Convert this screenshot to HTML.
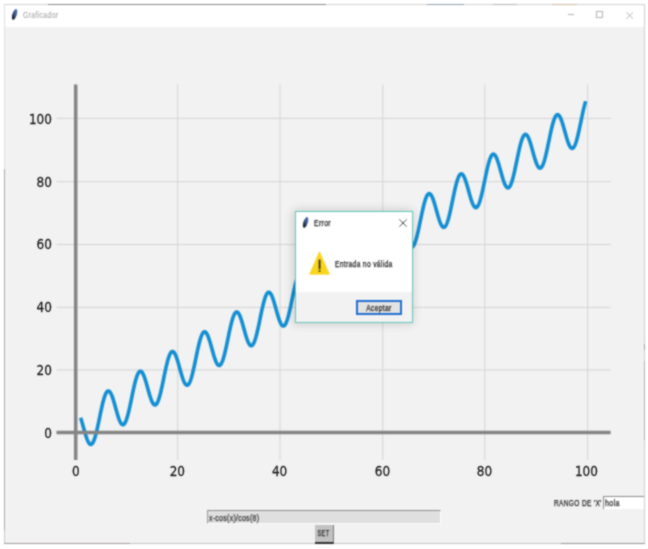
<!DOCTYPE html>
<html><head><meta charset="utf-8"><style>
*{margin:0;padding:0;box-sizing:border-box}
html,body{width:648px;height:549px;overflow:hidden;background:#fff;position:relative;font-family:"Liberation Sans",sans-serif}
.abs{position:absolute;white-space:nowrap}
.win{position:absolute;left:4px;top:4px;width:641px;height:540px;background:#f2f2f2;overflow:hidden}
.title{position:absolute;left:0;top:0;width:100%;height:22.6px;background:#fff}
.ttext{position:absolute;left:19px;top:4.7px;font-size:9.6px;color:#999;letter-spacing:0.45px;transform:scaleX(0.72);transform-origin:0 0;white-space:nowrap}
.chart{position:absolute;left:0;top:0}
.sx{display:inline-block;transform-origin:0 0}
.dk{-webkit-text-stroke:0.25px currentColor}
.ls{letter-spacing:0.45px}
#txt{position:absolute;left:0;top:0;width:648px;height:549px;filter:url(#pageblur)}
#all{position:absolute;left:0;top:0;width:648px;height:549px;background:#fff;filter:url(#pageblur)}
</style></head><body><svg width="0" height="0" style="position:absolute"><filter id="pageblur" x="0" y="0" width="100%" height="100%" color-interpolation-filters="sRGB"><feConvolveMatrix order="3" kernelMatrix="1 2 1 2 6 2 1 2 1" divisor="18" edgeMode="duplicate" preserveAlpha="false"/></filter></svg><svg width="0" height="0" style="position:absolute"><filter id="labblur" x="0" y="0" width="100%" height="100%" color-interpolation-filters="sRGB"><feConvolveMatrix order="3" kernelMatrix="1 2 1 2 10 2 1 2 1" divisor="22" edgeMode="duplicate" preserveAlpha="false"/></filter></svg><div id="all">
<div class="win">
  <div class="title">
    <div class="abs" style="left:563.5px;top:10.3px;width:6.6px;height:1px;background:#b0b0b0"></div>
    <div class="abs" style="left:592.4px;top:7.3px;width:6.8px;height:6.8px;border:0.8px solid #b4b4b4"></div>
    <svg class="abs" style="left:621.8px;top:7.6px" width="7.4" height="7" viewBox="0 0 7.4 7"><path d="M0.2,0.2 L7.2,6.8 M7.2,0.2 L0.2,6.8" stroke="#acacac" stroke-width="0.85"/></svg>
  </div>
</div>
<svg class="abs" style="left:10.0px;top:7.7px" width="9" height="13" viewBox="0 0 9 13"><defs><linearGradient id="fg10.0" x1="0.7" y1="0" x2="0.3" y2="1"><stop offset="0" stop-color="#5470a8"/><stop offset="0.45" stop-color="#3f5894"/><stop offset="0.75" stop-color="#232a40"/><stop offset="1" stop-color="#101010"/></linearGradient></defs><ellipse cx="4.6" cy="6.4" rx="2.2" ry="5.6" transform="rotate(18 4.6 6.4)" fill="url(#fg10.0)"/></svg>
<!-- window borders -->
<div class="abs" style="left:4px;top:4px;width:641px;height:1px;background:#d2d2d2"></div>
<div class="abs" style="left:48px;top:4px;width:278px;height:1px;background:#8a8a8a"></div><div class="abs" style="left:427px;top:4px;width:37px;height:1px;background:#8d9fb0"></div><div class="abs" style="left:493px;top:4px;width:24px;height:1px;background:#b4b4b4"></div><div class="abs" style="left:552px;top:4px;width:25px;height:1px;background:#cdb9a0"></div>
<div class="abs" style="left:4px;top:4px;width:1px;height:165px;background:#e0e0e0"></div>
<div class="abs" style="left:4px;top:169px;width:1px;height:361px;background:#a8a8a8"></div>
<div class="abs" style="left:4px;top:530px;width:1px;height:14px;background:#c8c8c8"></div>
<div class="abs" style="left:644px;top:4px;width:1px;height:540px;background:#cfcfcf"></div><div class="abs" style="left:644px;top:344px;width:1px;height:6px;background:#a0a0a0"></div><div class="abs" style="left:644px;top:361px;width:1px;height:79px;background:#b4b4b4"></div>
<div class="abs" style="left:4px;top:543px;width:126px;height:1px;background:#a39a9a"></div><div class="abs" style="left:130px;top:543px;width:431px;height:1px;background:#c6c6c6"></div><div class="abs" style="left:561px;top:543px;width:84px;height:1px;background:#949494"></div>
<svg class="chart" width="648" height="549" viewBox="0 0 648 549">
<defs><filter id="soft" x="-5%" y="-5%" width="110%" height="110%"><feGaussianBlur stdDeviation="0.3"/></filter></defs><g stroke="#d4d4d4" stroke-width="1"><line x1="75.40" y1="84.5" x2="75.40" y2="460.1"/><line x1="56.5" y1="432.30" x2="610.6" y2="432.30"/><line x1="177.70" y1="84.5" x2="177.70" y2="460.1"/><line x1="56.5" y1="369.90" x2="610.6" y2="369.90"/><line x1="280.00" y1="84.5" x2="280.00" y2="460.1"/><line x1="56.5" y1="307.40" x2="610.6" y2="307.40"/><line x1="382.80" y1="84.5" x2="382.80" y2="460.1"/><line x1="56.5" y1="244.50" x2="610.6" y2="244.50"/><line x1="484.80" y1="84.5" x2="484.80" y2="460.1"/><line x1="56.5" y1="181.70" x2="610.6" y2="181.70"/><line x1="587.60" y1="84.5" x2="587.60" y2="460.1"/><line x1="56.5" y1="118.40" x2="610.6" y2="118.40"/></g>
<path d="M80.61,417.70 L81.03,418.97 L81.45,420.32 L81.87,421.72 L82.29,423.17 L82.71,424.65 L83.13,426.16 L83.55,427.68 L83.97,429.20 L84.40,430.70 L84.82,432.18 L85.24,433.62 L85.66,435.02 L86.08,436.36 L86.50,437.62 L86.92,438.80 L87.34,439.90 L87.76,440.89 L88.18,441.78 L88.60,442.55 L89.03,443.20 L89.45,443.71 L89.87,444.10 L90.29,444.34 L90.71,444.45 L91.13,444.40 L91.55,444.22 L91.97,443.88 L92.39,443.40 L92.81,442.78 L93.23,442.01 L93.65,441.10 L94.08,440.06 L94.50,438.90 L94.92,437.60 L95.34,436.20 L95.76,434.68 L96.18,433.07 L96.60,431.36 L97.02,429.58 L97.44,427.72 L97.86,425.81 L98.28,423.85 L98.71,421.85 L99.13,419.82 L99.55,417.79 L99.97,415.75 L100.39,413.73 L100.81,411.73 L101.23,409.76 L101.65,407.84 L102.07,405.98 L102.49,404.19 L102.91,402.48 L103.34,400.85 L103.76,399.33 L104.18,397.91 L104.60,396.61 L105.02,395.43 L105.44,394.38 L105.86,393.46 L106.28,392.68 L106.70,392.04 L107.12,391.55 L107.54,391.20 L107.97,391.00 L108.39,390.95 L108.81,391.04 L109.23,391.27 L109.65,391.64 L110.07,392.15 L110.49,392.79 L110.91,393.55 L111.33,394.42 L111.75,395.41 L112.17,396.49 L112.60,397.67 L113.02,398.93 L113.44,400.26 L113.86,401.65 L114.28,403.09 L114.70,404.56 L115.12,406.07 L115.54,407.58 L115.96,409.10 L116.38,410.61 L116.80,412.10 L117.23,413.55 L117.65,414.96 L118.07,416.31 L118.49,417.59 L118.91,418.80 L119.33,419.91 L119.75,420.93 L120.17,421.84 L120.59,422.64 L121.01,423.32 L121.43,423.87 L121.86,424.28 L122.28,424.56 L122.70,424.70 L123.12,424.69 L123.54,424.54 L123.96,424.24 L124.38,423.79 L124.80,423.20 L125.22,422.47 L125.64,421.60 L126.06,420.59 L126.49,419.45 L126.91,418.18 L127.33,416.80 L127.75,415.31 L128.17,413.72 L128.59,412.04 L129.01,410.27 L129.43,408.43 L129.85,406.53 L130.27,404.58 L130.69,402.59 L131.12,400.57 L131.54,398.54 L131.96,396.50 L132.38,394.47 L132.80,392.46 L133.22,390.49 L133.64,388.56 L134.06,386.68 L134.48,384.87 L134.90,383.14 L135.32,381.49 L135.75,379.95 L136.17,378.50 L136.59,377.17 L137.01,375.96 L137.43,374.88 L137.85,373.93 L138.27,373.12 L138.69,372.45 L139.11,371.92 L139.53,371.54 L139.95,371.30 L140.38,371.21 L140.80,371.27 L141.22,371.47 L141.64,371.81 L142.06,372.28 L142.48,372.89 L142.90,373.62 L143.32,374.47 L143.74,375.43 L144.16,376.49 L144.58,377.65 L145.00,378.89 L145.43,380.20 L145.85,381.58 L146.27,383.01 L146.69,384.48 L147.11,385.97 L147.53,387.49 L147.95,389.01 L148.37,390.52 L148.79,392.01 L149.21,393.48 L149.63,394.89 L150.06,396.26 L150.48,397.56 L150.90,398.78 L151.32,399.92 L151.74,400.96 L152.16,401.90 L152.58,402.73 L153.00,403.43 L153.42,404.01 L153.84,404.46 L154.26,404.77 L154.69,404.94 L155.11,404.97 L155.53,404.85 L155.95,404.59 L156.37,404.18 L156.79,403.62 L157.21,402.92 L157.63,402.08 L158.05,401.10 L158.47,399.99 L158.89,398.76 L159.32,397.41 L159.74,395.94 L160.16,394.37 L160.58,392.71 L161.00,390.96 L161.42,389.14 L161.84,387.25 L162.26,385.31 L162.68,383.33 L163.10,381.31 L163.52,379.28 L163.95,377.24 L164.37,375.21 L164.79,373.20 L165.21,371.22 L165.63,369.27 L166.05,367.38 L166.47,365.56 L166.89,363.81 L167.31,362.14 L167.73,360.57 L168.15,359.10 L168.58,357.74 L169.00,356.50 L169.42,355.39 L169.84,354.41 L170.26,353.56 L170.68,352.86 L171.10,352.30 L171.52,351.88 L171.94,351.61 L172.36,351.49 L172.78,351.51 L173.21,351.67 L173.63,351.98 L174.05,352.42 L174.47,353.00 L174.89,353.70 L175.31,354.52 L175.73,355.46 L176.15,356.49 L176.57,357.63 L176.99,358.85 L177.41,360.15 L177.84,361.51 L178.26,362.93 L178.68,364.39 L179.10,365.88 L179.52,367.39 L179.94,368.91 L180.36,370.43 L180.78,371.93 L181.20,373.40 L181.62,374.83 L182.04,376.21 L182.47,377.52 L182.89,378.77 L183.31,379.92 L183.73,380.99 L184.15,381.95 L184.57,382.81 L184.99,383.54 L185.41,384.15 L185.83,384.63 L186.25,384.98 L186.67,385.18 L187.10,385.24 L187.52,385.16 L187.94,384.93 L188.36,384.55 L188.78,384.03 L189.20,383.36 L189.62,382.55 L190.04,381.61 L190.46,380.53 L190.88,379.33 L191.30,378.00 L191.73,376.56 L192.15,375.02 L192.57,373.38 L192.99,371.65 L193.41,369.84 L193.83,367.97 L194.25,366.04 L194.67,364.06 L195.09,362.06 L195.51,360.03 L195.93,357.99 L196.36,355.96 L196.78,353.94 L197.20,351.95 L197.62,349.99 L198.04,348.09 L198.46,346.25 L198.88,344.48 L199.30,342.79 L199.72,341.20 L200.14,339.70 L200.56,338.32 L200.98,337.05 L201.41,335.91 L201.83,334.89 L202.25,334.02 L202.67,333.28 L203.09,332.68 L203.51,332.23 L203.93,331.92 L204.35,331.77 L204.77,331.75 L205.19,331.89 L205.61,332.16 L206.04,332.57 L206.46,333.11 L206.88,333.79 L207.30,334.58 L207.72,335.49 L208.14,336.50 L208.56,337.62 L208.98,338.82 L209.40,340.10 L209.82,341.45 L210.24,342.85 L210.67,344.30 L211.09,345.79 L211.51,347.30 L211.93,348.82 L212.35,350.33 L212.77,351.84 L213.19,353.32 L213.61,354.76 L214.03,356.15 L214.45,357.48 L214.87,358.74 L215.30,359.92 L215.72,361.01 L216.14,362.00 L216.56,362.88 L216.98,363.64 L217.40,364.28 L217.82,364.80 L218.24,365.17 L218.66,365.41 L219.08,365.50 L219.50,365.46 L219.93,365.26 L220.35,364.92 L220.77,364.43 L221.19,363.80 L221.61,363.02 L222.03,362.11 L222.45,361.06 L222.87,359.89 L223.29,358.59 L223.71,357.18 L224.13,355.66 L224.56,354.04 L224.98,352.33 L225.40,350.54 L225.82,348.68 L226.24,346.76 L226.66,344.80 L227.08,342.80 L227.50,340.78 L227.92,338.74 L228.34,336.70 L228.76,334.68 L229.19,332.68 L229.61,330.72 L230.03,328.80 L230.45,326.94 L230.87,325.15 L231.29,323.45 L231.71,321.83 L232.13,320.31 L232.55,318.90 L232.97,317.60 L233.39,316.43 L233.82,315.39 L234.24,314.48 L234.66,313.70 L235.08,313.07 L235.50,312.59 L235.92,312.25 L236.34,312.06 L236.76,312.01 L237.18,312.11 L237.60,312.35 L238.02,312.72 L238.45,313.24 L238.87,313.88 L239.29,314.65 L239.71,315.53 L240.13,316.52 L240.55,317.61 L240.97,318.79 L241.39,320.05 L241.81,321.39 L242.23,322.78 L242.65,324.22 L243.08,325.70 L243.50,327.20 L243.92,328.72 L244.34,330.24 L244.76,331.75 L245.18,333.23 L245.60,334.68 L246.02,336.09 L246.44,337.44 L246.86,338.72 L247.28,339.92 L247.71,341.03 L248.13,342.04 L248.55,342.95 L248.97,343.74 L249.39,344.41 L249.81,344.95 L250.23,345.36 L250.65,345.63 L251.07,345.76 L251.49,345.74 L251.91,345.58 L252.33,345.28 L252.76,344.82 L253.18,344.22 L253.60,343.48 L254.02,342.60 L254.44,341.59 L254.86,340.44 L255.28,339.17 L255.70,337.79 L256.12,336.29 L256.54,334.69 L256.96,333.01 L257.39,331.23 L257.81,329.39 L258.23,327.49 L258.65,325.53 L259.07,323.54 L259.49,321.52 L259.91,319.49 L260.33,317.45 L260.75,315.42 L261.17,313.41 L261.59,311.44 L262.02,309.51 L262.44,307.64 L262.86,305.84 L263.28,304.11 L263.70,302.47 L264.12,300.93 L264.54,299.49 L264.96,298.16 L265.38,296.96 L265.80,295.89 L266.22,294.94 L266.65,294.14 L267.07,293.47 L267.49,292.95 L267.91,292.58 L268.33,292.35 L268.75,292.27 L269.17,292.33 L269.59,292.54 L270.01,292.89 L270.43,293.37 L270.85,293.98 L271.28,294.72 L271.70,295.57 L272.12,296.54 L272.54,297.61 L272.96,298.77 L273.38,300.01 L273.80,301.33 L274.22,302.71 L274.64,304.14 L275.06,305.61 L275.48,307.11 L275.91,308.63 L276.33,310.15 L276.75,311.66 L277.17,313.15 L277.59,314.61 L278.01,316.03 L278.43,317.39 L278.85,318.68 L279.27,319.90 L279.69,321.04 L280.11,322.07 L280.54,323.01 L280.96,323.83 L281.38,324.53 L281.80,325.10 L282.22,325.54 L282.64,325.84 L283.06,326.01 L283.48,326.03 L283.90,325.90 L284.32,325.63 L284.74,325.21 L285.17,324.64 L285.59,323.94 L286.01,323.09 L286.43,322.10 L286.85,320.99 L287.27,319.75 L287.69,318.39 L288.11,316.92 L288.53,315.35 L288.95,313.68 L289.37,311.93 L289.80,310.10 L290.22,308.21 L290.64,306.26 L291.06,304.28 L291.48,302.27 L291.90,300.23 L292.32,298.20 L292.74,296.16 L293.16,294.15 L293.58,292.17 L294.00,290.23 L294.43,288.34 L294.85,286.52 L295.27,284.77 L295.69,283.11 L296.11,281.55 L296.53,280.08 L296.95,278.73 L297.37,277.50 L297.79,276.39 L298.21,275.42 L298.63,274.58 L299.06,273.88 L299.48,273.33 L299.90,272.92 L300.32,272.66 L300.74,272.54 L301.16,272.57 L301.58,272.74 L302.00,273.06 L302.42,273.51 L302.84,274.09 L303.26,274.80 L303.69,275.63 L304.11,276.57 L304.53,277.61 L304.95,278.75 L305.37,279.98 L305.79,281.28 L306.21,282.64 L306.63,284.06 L307.05,285.52 L307.47,287.02 L307.89,288.53 L308.31,290.05 L308.74,291.57 L309.16,293.06 L309.58,294.53 L310.00,295.96 L310.42,297.34 L310.84,298.65 L311.26,299.89 L311.68,301.04 L312.10,302.10 L312.52,303.06 L312.94,303.91 L313.37,304.64 L313.79,305.24 L314.21,305.71 L314.63,306.05 L315.05,306.25 L315.47,306.30 L315.89,306.21 L316.31,305.97 L316.73,305.59 L317.15,305.06 L317.57,304.38 L318.00,303.57 L318.42,302.61 L318.84,301.53 L319.26,300.32 L319.68,298.99 L320.10,297.54 L320.52,295.99 L320.94,294.35 L321.36,292.61 L321.78,290.80 L322.20,288.93 L322.63,286.99 L323.05,285.02 L323.47,283.01 L323.89,280.98 L324.31,278.94 L324.73,276.91 L325.15,274.89 L325.57,272.90 L325.99,270.95 L326.41,269.05 L326.83,267.21 L327.26,265.45 L327.68,263.76 L328.10,262.17 L328.52,260.68 L328.94,259.31 L329.36,258.04 L329.78,256.91 L330.20,255.90 L330.62,255.03 L331.04,254.30 L331.46,253.71 L331.89,253.27 L332.31,252.97 L332.73,252.82 L333.15,252.82 L333.57,252.95 L333.99,253.24 L334.41,253.65 L334.83,254.20 L335.25,254.88 L335.67,255.68 L336.09,256.60 L336.52,257.62 L336.94,258.74 L337.36,259.94 L337.78,261.23 L338.20,262.58 L338.62,263.99 L339.04,265.44 L339.46,266.93 L339.88,268.44 L340.30,269.96 L340.72,271.47 L341.15,272.98 L341.57,274.45 L341.99,275.89 L342.41,277.28 L342.83,278.61 L343.25,279.87 L343.67,281.04 L344.09,282.12 L344.51,283.11 L344.93,283.98 L345.35,284.74 L345.78,285.37 L346.20,285.88 L346.62,286.25 L347.04,286.48 L347.46,286.56 L347.88,286.51 L348.30,286.30 L348.72,285.95 L349.14,285.46 L349.56,284.82 L349.98,284.04 L350.41,283.12 L350.83,282.06 L351.25,280.88 L351.67,279.58 L352.09,278.16 L352.51,276.63 L352.93,275.01 L353.35,273.29 L353.77,271.50 L354.19,269.64 L354.61,267.72 L355.04,265.75 L355.46,263.75 L355.88,261.73 L356.30,259.69 L356.72,257.65 L357.14,255.63 L357.56,253.63 L357.98,251.67 L358.40,249.76 L358.82,247.90 L359.24,246.12 L359.66,244.42 L360.09,242.80 L360.51,241.29 L360.93,239.89 L361.35,238.60 L361.77,237.43 L362.19,236.39 L362.61,235.49 L363.03,234.72 L363.45,234.10 L363.87,233.62 L364.29,233.29 L364.72,233.11 L365.14,233.07 L365.56,233.17 L365.98,233.42 L366.40,233.81 L366.82,234.33 L367.24,234.98 L367.66,235.75 L368.08,236.64 L368.50,237.63 L368.92,238.73 L369.35,239.91 L369.77,241.18 L370.19,242.52 L370.61,243.91 L371.03,245.36 L371.45,246.84 L371.87,248.34 L372.29,249.86 L372.71,251.38 L373.13,252.89 L373.55,254.37 L373.98,255.82 L374.40,257.22 L374.82,258.56 L375.24,259.84 L375.66,261.03 L376.08,262.14 L376.50,263.15 L376.92,264.05 L377.34,264.83 L377.76,265.50 L378.18,266.03 L378.61,266.44 L379.03,266.70 L379.45,266.82 L379.87,266.80 L380.29,266.63 L380.71,266.31 L381.13,265.85 L381.55,265.25 L381.97,264.50 L382.39,263.61 L382.81,262.59 L383.24,261.44 L383.66,260.16 L384.08,258.77 L384.50,257.27 L384.92,255.67 L385.34,253.97 L385.76,252.20 L386.18,250.35 L386.60,248.44 L387.02,246.49 L387.44,244.49 L387.87,242.47 L388.29,240.44 L388.71,238.40 L389.13,236.37 L389.55,234.37 L389.97,232.40 L390.39,230.47 L390.81,228.60 L391.23,226.80 L391.65,225.08 L392.07,223.44 L392.50,221.90 L392.92,220.47 L393.34,219.16 L393.76,217.96 L394.18,216.89 L394.60,215.96 L395.02,215.16 L395.44,214.50 L395.86,213.99 L396.28,213.62 L396.70,213.40 L397.13,213.33 L397.55,213.40 L397.97,213.61 L398.39,213.97 L398.81,214.46 L399.23,215.08 L399.65,215.82 L400.07,216.68 L400.49,217.65 L400.91,218.72 L401.33,219.89 L401.76,221.14 L402.18,222.46 L402.60,223.84 L403.02,225.28 L403.44,226.75 L403.86,228.25 L404.28,229.76 L404.70,231.28 L405.12,232.79 L405.54,234.29 L405.96,235.74 L406.39,237.16 L406.81,238.52 L407.23,239.81 L407.65,241.02 L408.07,242.15 L408.49,243.18 L408.91,244.11 L409.33,244.92 L409.75,245.62 L410.17,246.18 L410.59,246.62 L411.02,246.91 L411.44,247.07 L411.86,247.08 L412.28,246.95 L412.70,246.67 L413.12,246.24 L413.54,245.67 L413.96,244.95 L414.38,244.10 L414.80,243.11 L415.22,241.99 L415.64,240.74 L416.07,239.37 L416.49,237.90 L416.91,236.32 L417.33,234.65 L417.75,232.89 L418.17,231.06 L418.59,229.16 L419.01,227.22 L419.43,225.23 L419.85,223.22 L420.27,221.18 L420.70,219.15 L421.12,217.12 L421.54,215.10 L421.96,213.12 L422.38,211.19 L422.80,209.30 L423.22,207.49 L423.64,205.74 L424.06,204.09 L424.48,202.52 L424.90,201.07 L425.33,199.72 L425.75,198.50 L426.17,197.40 L426.59,196.43 L427.01,195.60 L427.43,194.91 L427.85,194.36 L428.27,193.96 L428.69,193.71 L429.11,193.60 L429.53,193.63 L429.96,193.81 L430.38,194.14 L430.80,194.59 L431.22,195.18 L431.64,195.90 L432.06,196.73 L432.48,197.68 L432.90,198.73 L433.32,199.87 L433.74,201.10 L434.16,202.40 L434.59,203.77 L435.01,205.20 L435.43,206.66 L435.85,208.16 L436.27,209.67 L436.69,211.19 L437.11,212.70 L437.53,214.20 L437.95,215.67 L438.37,217.09 L438.79,218.46 L439.22,219.77 L439.64,221.01 L440.06,222.16 L440.48,223.21 L440.90,224.17 L441.32,225.01 L441.74,225.73 L442.16,226.33 L442.58,226.79 L443.00,227.12 L443.42,227.31 L443.85,227.36 L444.27,227.26 L444.69,227.01 L445.11,226.62 L445.53,226.08 L445.95,225.40 L446.37,224.58 L446.79,223.62 L447.21,222.53 L447.63,221.31 L448.05,219.97 L448.48,218.52 L448.90,216.97 L449.32,215.31 L449.74,213.58 L450.16,211.76 L450.58,209.88 L451.00,207.95 L451.42,205.97 L451.84,203.96 L452.26,201.93 L452.68,199.89 L453.11,197.86 L453.53,195.84 L453.95,193.85 L454.37,191.91 L454.79,190.01 L455.21,188.17 L455.63,186.41 L456.05,184.73 L456.47,183.15 L456.89,181.67 L457.31,180.29 L457.74,179.04 L458.16,177.91 L458.58,176.91 L459.00,176.05 L459.42,175.32 L459.84,174.74 L460.26,174.31 L460.68,174.02 L461.10,173.87 L461.52,173.88 L461.94,174.02 L462.37,174.31 L462.79,174.74 L463.21,175.30 L463.63,175.98 L464.05,176.79 L464.47,177.71 L464.89,178.73 L465.31,179.86 L465.73,181.07 L466.15,182.35 L466.57,183.71 L466.99,185.12 L467.42,186.58 L467.84,188.06 L468.26,189.57 L468.68,191.09 L469.10,192.61 L469.52,194.11 L469.94,195.59 L470.36,197.02 L470.78,198.41 L471.20,199.73 L471.62,200.99 L472.05,202.16 L472.47,203.24 L472.89,204.21 L473.31,205.08 L473.73,205.83 L474.15,206.46 L474.57,206.96 L474.99,207.32 L475.41,207.54 L475.83,207.62 L476.25,207.56 L476.68,207.35 L477.10,206.99 L477.52,206.49 L477.94,205.84 L478.36,205.05 L478.78,204.12 L479.20,203.06 L479.62,201.87 L480.04,200.56 L480.46,199.14 L480.88,197.61 L481.31,195.98 L481.73,194.26 L482.15,192.46 L482.57,190.60 L482.99,188.68 L483.41,186.71 L483.83,184.70 L484.25,182.68 L484.67,180.64 L485.09,178.61 L485.51,176.58 L485.94,174.59 L486.36,172.63 L486.78,170.72 L487.20,168.87 L487.62,167.09 L488.04,165.39 L488.46,163.78 L488.88,162.27 L489.30,160.87 L489.72,159.59 L490.14,158.43 L490.57,157.40 L490.99,156.50 L491.41,155.75 L491.83,155.13 L492.25,154.66 L492.67,154.34 L493.09,154.16 L493.51,154.13 L493.93,154.24 L494.35,154.50 L494.77,154.89 L495.20,155.42 L495.62,156.07 L496.04,156.85 L496.46,157.74 L496.88,158.75 L497.30,159.85 L497.72,161.04 L498.14,162.31 L498.56,163.65 L498.98,165.05 L499.40,166.49 L499.83,167.97 L500.25,169.48 L500.67,171.00 L501.09,172.52 L501.51,174.02 L501.93,175.50 L502.35,176.95 L502.77,178.35 L503.19,179.69 L503.61,180.96 L504.03,182.15 L504.46,183.25 L504.88,184.26 L505.30,185.15 L505.72,185.93 L506.14,186.59 L506.56,187.12 L506.98,187.51 L507.40,187.77 L507.82,187.88 L508.24,187.85 L508.66,187.67 L509.09,187.35 L509.51,186.88 L509.93,186.27 L510.35,185.51 L510.77,184.62 L511.19,183.59 L511.61,182.43 L512.03,181.15 L512.45,179.75 L512.87,178.24 L513.29,176.64 L513.72,174.94 L514.14,173.16 L514.56,171.31 L514.98,169.40 L515.40,167.44 L515.82,165.44 L516.24,163.42 L516.66,161.39 L517.08,159.35 L517.50,157.32 L517.92,155.32 L518.34,153.35 L518.77,151.43 L519.19,149.56 L519.61,147.77 L520.03,146.05 L520.45,144.42 L520.87,142.88 L521.29,141.46 L521.71,140.15 L522.13,138.96 L522.55,137.90 L522.97,136.97 L523.40,136.18 L523.82,135.53 L524.24,135.02 L524.66,134.67 L525.08,134.45 L525.50,134.39 L525.92,134.47 L526.34,134.69 L526.76,135.05 L527.18,135.54 L527.60,136.17 L528.03,136.92 L528.45,137.79 L528.87,138.76 L529.29,139.84 L529.71,141.01 L530.13,142.26 L530.55,143.59 L530.97,144.97 L531.39,146.41 L531.81,147.88 L532.23,149.39 L532.66,150.90 L533.08,152.42 L533.50,153.93 L533.92,155.42 L534.34,156.88 L534.76,158.29 L535.18,159.64 L535.60,160.93 L536.02,162.14 L536.44,163.27 L536.86,164.29 L537.29,165.21 L537.71,166.02 L538.13,166.71 L538.55,167.27 L538.97,167.69 L539.39,167.98 L539.81,168.13 L540.23,168.14 L540.65,167.99 L541.07,167.71 L541.49,167.27 L541.92,166.69 L542.34,165.97 L542.76,165.11 L543.18,164.11 L543.60,162.98 L544.02,161.73 L544.44,160.36 L544.86,158.87 L545.28,157.29 L545.70,155.61 L546.12,153.85 L546.55,152.02 L546.97,150.12 L547.39,148.17 L547.81,146.18 L548.23,144.17 L548.65,142.13 L549.07,140.10 L549.49,138.07 L549.91,136.06 L550.33,134.08 L550.75,132.14 L551.18,130.26 L551.60,128.45 L552.02,126.71 L552.44,125.06 L552.86,123.50 L553.28,122.05 L553.70,120.71 L554.12,119.49 L554.54,118.40 L554.96,117.44 L555.38,116.62 L555.81,115.93 L556.23,115.39 L556.65,115.00 L557.07,114.75 L557.49,114.65 L557.91,114.70 L558.33,114.89 L558.75,115.21 L559.17,115.68 L559.59,116.27 L560.01,117.00 L560.44,117.84 L560.86,118.79 L561.28,119.84 L561.70,120.99 L562.12,122.22 L562.54,123.53 L562.96,124.91 L563.38,126.33 L563.80,127.80 L564.22,129.29 L564.64,130.81 L565.07,132.33 L565.49,133.84 L565.91,135.34 L566.33,136.80 L566.75,138.22 L567.17,139.59 L567.59,140.90 L568.01,142.13 L568.43,143.27 L568.85,144.32 L569.27,145.27 L569.70,146.11 L570.12,146.82 L570.54,147.41 L570.96,147.87 L571.38,148.19 L571.80,148.37 L572.22,148.41 L572.64,148.31 L573.06,148.05 L573.48,147.65 L573.90,147.11 L574.32,146.42 L574.75,145.59 L575.17,144.62 L575.59,143.52 L576.01,142.30 L576.43,140.96 L576.85,139.50 L577.27,137.94 L577.69,136.28 L578.11,134.54 L578.53,132.72 L578.95,130.84 L579.38,128.90 L579.80,126.92 L580.22,124.91 L580.64,122.88 L581.06,120.84 L581.48,118.81 L581.90,116.80 L582.32,114.81 L582.74,112.86 L583.16,110.97 L583.58,109.14 L584.01,107.38 L584.43,105.71 L584.85,104.13 L585.27,102.65 L585.69,101.28" fill="none" stroke="#128ed2" stroke-width="3.6" stroke-linejoin="round" stroke-linecap="butt"/>
<line x1="75.70" y1="84.5" x2="75.70" y2="460.1" stroke="#848484" stroke-width="3.5"/>
<line x1="56.5" y1="432.6" x2="610.6" y2="432.6" stroke="#848484" stroke-width="3.5"/>
</svg>
<!-- bottom widgets -->
<div class="abs" style="left:207px;top:510px;width:234px;height:13.6px;background:#dfdfdf;border-top:1px solid #8e8e8e;border-left:1px solid #9a9a9a;border-right:1px solid #fcfcfc;border-bottom:1px solid #fcfcfc;font-size:9.4px;color:#1a1a1a;line-height:13.5px;padding-left:1px"></div>
<div class="abs" style="left:315px;top:525px;width:19px;height:18.5px;background:#c2c2c2;border-right:1.5px solid #7c7c7c;border-bottom:2px solid #303030;font-size:9px;color:#1c1c1c;text-align:center;line-height:17px"></div>
<div class="abs" style="left:603px;top:495.5px;width:41px;height:13.5px;background:#fff;border-left:1px solid #8e8e8e;border-top:1px solid #8e8e8e;font-size:9.2px;color:#1c1c1c;line-height:12px;padding-left:0.8px"></div>
<!-- dialog -->
<div class="abs" style="left:295px;top:211px;width:118px;height:112px;box-shadow:-1px 0 9px 1px rgba(0,0,0,0.16)"></div>
<div class="abs" style="left:295px;top:211px;width:118px;height:112px;border:1px solid #62c6bb;border-top:1.3px solid #5ec8b8;background:#fff;overflow:hidden">
  <svg class="abs" style="left:102.8px;top:6.5px" width="8" height="8" viewBox="0 0 8 8"><path d="M0.3,0.3 L7.7,7.7 M7.7,0.3 L0.3,7.7" stroke="#555" stroke-width="1"/></svg>
  <svg class="abs" style="left:12.6px;top:38.6px" width="21" height="24" viewBox="0 0 21 24"><path d="M10.5,0.8 L20.4,23.2 L0.6,23.2 Z" fill="#fad61a" stroke="#f3cc10" stroke-width="0.6" stroke-linejoin="round"/><rect x="9.7" y="8.6" width="1.7" height="9.6" fill="#222"/><rect x="9.7" y="19.2" width="1.7" height="1.6" fill="#222"/></svg>
  <div class="abs" style="left:0;top:80px;width:118px;height:32px;background:#f2f2f2;border-bottom:1px solid #fafafa"></div>
  <div class="abs" style="left:59.8px;top:87.7px;width:46.7px;height:15.3px;border:2px solid #2270d2;background:#e3e3e3;font-size:9.2px;color:#1c1c1c;text-align:center;line-height:12px;padding-left:1.5px"></div>
</div>
<svg class="abs" style="left:300.5px;top:216.2px" width="9" height="13" viewBox="0 0 9 13"><defs><linearGradient id="fg300.5" x1="0.7" y1="0" x2="0.3" y2="1"><stop offset="0" stop-color="#5470a8"/><stop offset="0.45" stop-color="#3f5894"/><stop offset="0.75" stop-color="#232a40"/><stop offset="1" stop-color="#101010"/></linearGradient></defs><ellipse cx="4.6" cy="6.4" rx="2.2" ry="5.6" transform="rotate(18 4.6 6.4)" fill="url(#fg300.5)"/></svg>
</div><svg class="chart" width="648" height="549" viewBox="0 0 648 549" style="filter:url(#labblur)"><g font-family="DejaVu Sans, sans-serif" font-size="14.2" fill="#1e1e1e" stroke="#1e1e1e" stroke-width="0.3"><text transform="translate(75.80,475.8) scale(0.85,1)" text-anchor="middle">0</text><text transform="translate(51.9,438.10) scale(0.85,1)" text-anchor="end">0</text><text transform="translate(177.30,475.8) scale(0.85,1)" text-anchor="middle">20</text><text transform="translate(51.9,374.90) scale(0.85,1)" text-anchor="end">20</text><text transform="translate(279.60,475.8) scale(0.85,1)" text-anchor="middle">40</text><text transform="translate(51.9,312.40) scale(0.85,1)" text-anchor="end">40</text><text transform="translate(382.40,475.8) scale(0.85,1)" text-anchor="middle">60</text><text transform="translate(51.9,248.90) scale(0.85,1)" text-anchor="end">60</text><text transform="translate(484.40,475.8) scale(0.85,1)" text-anchor="middle">80</text><text transform="translate(51.9,186.70) scale(0.85,1)" text-anchor="end">80</text><text transform="translate(586.40,475.8) scale(0.85,1)" text-anchor="middle">100</text><text transform="translate(51.9,124.00) scale(0.85,1)" text-anchor="end">100</text></g></svg>
<div id="txt">
<div class="abs" style="left:23px;top:8.7px;font-size:9.6px;color:#999;letter-spacing:0.45px;transform:scaleX(0.72);transform-origin:0 0">Graficador</div>
<div class="abs" style="left:207px;top:510px;width:233px;height:13px;border-top:1px solid transparent;border-left:1px solid transparent;font-size:9.4px;color:#303030;line-height:13.5px;padding-left:1px"><span class="sx dk ls" style="transform:scaleX(0.731)">x-cos(x)/cos(8)</span></div>
<div class="abs" style="left:315px;top:525px;width:19px;height:18.5px;border-right:1.5px solid transparent;border-bottom:2px solid transparent;font-size:9px;color:#2a2a2a;text-align:center;line-height:17px"><span class="dk ls" style="display:inline-block;position:relative;left:-0.8px;transform:scaleX(0.64)">SET</span></div>
<div class="abs" style="left:553.5px;top:497.5px;font-size:9px;color:#1c1c1c"><span class="sx dk ls" style="transform:scaleX(0.73)">RANGO DE 'X'</span></div>
<div class="abs" style="left:603px;top:495.5px;width:41px;height:13.5px;border-left:1px solid transparent;border-top:1px solid transparent;font-size:9.2px;color:#1c1c1c;line-height:12px;padding-left:0.8px"><span class="sx dk ls" style="transform:scaleX(0.78)">hola</span></div>
<div class="abs" style="left:313.7px;top:218.2px;font-size:9.2px;color:#181818"><span class="sx dk ls" style="transform:scaleX(0.745)">Error</span></div>
<div class="abs" style="left:335px;top:259.1px;font-size:9.2px;color:#141414"><span class="sx dk ls" style="transform:scaleX(0.727)">Entrada no válida</span></div>
<div class="abs" style="left:355.8px;top:301px;width:46.7px;height:15.3px;border:2px solid transparent;font-size:8.9px;color:#181818;text-align:center;line-height:10.8px;padding-left:0px"><span class="dk ls" style="display:inline-block;transform:scaleX(0.75)">Aceptar</span></div>
</div></body></html>
